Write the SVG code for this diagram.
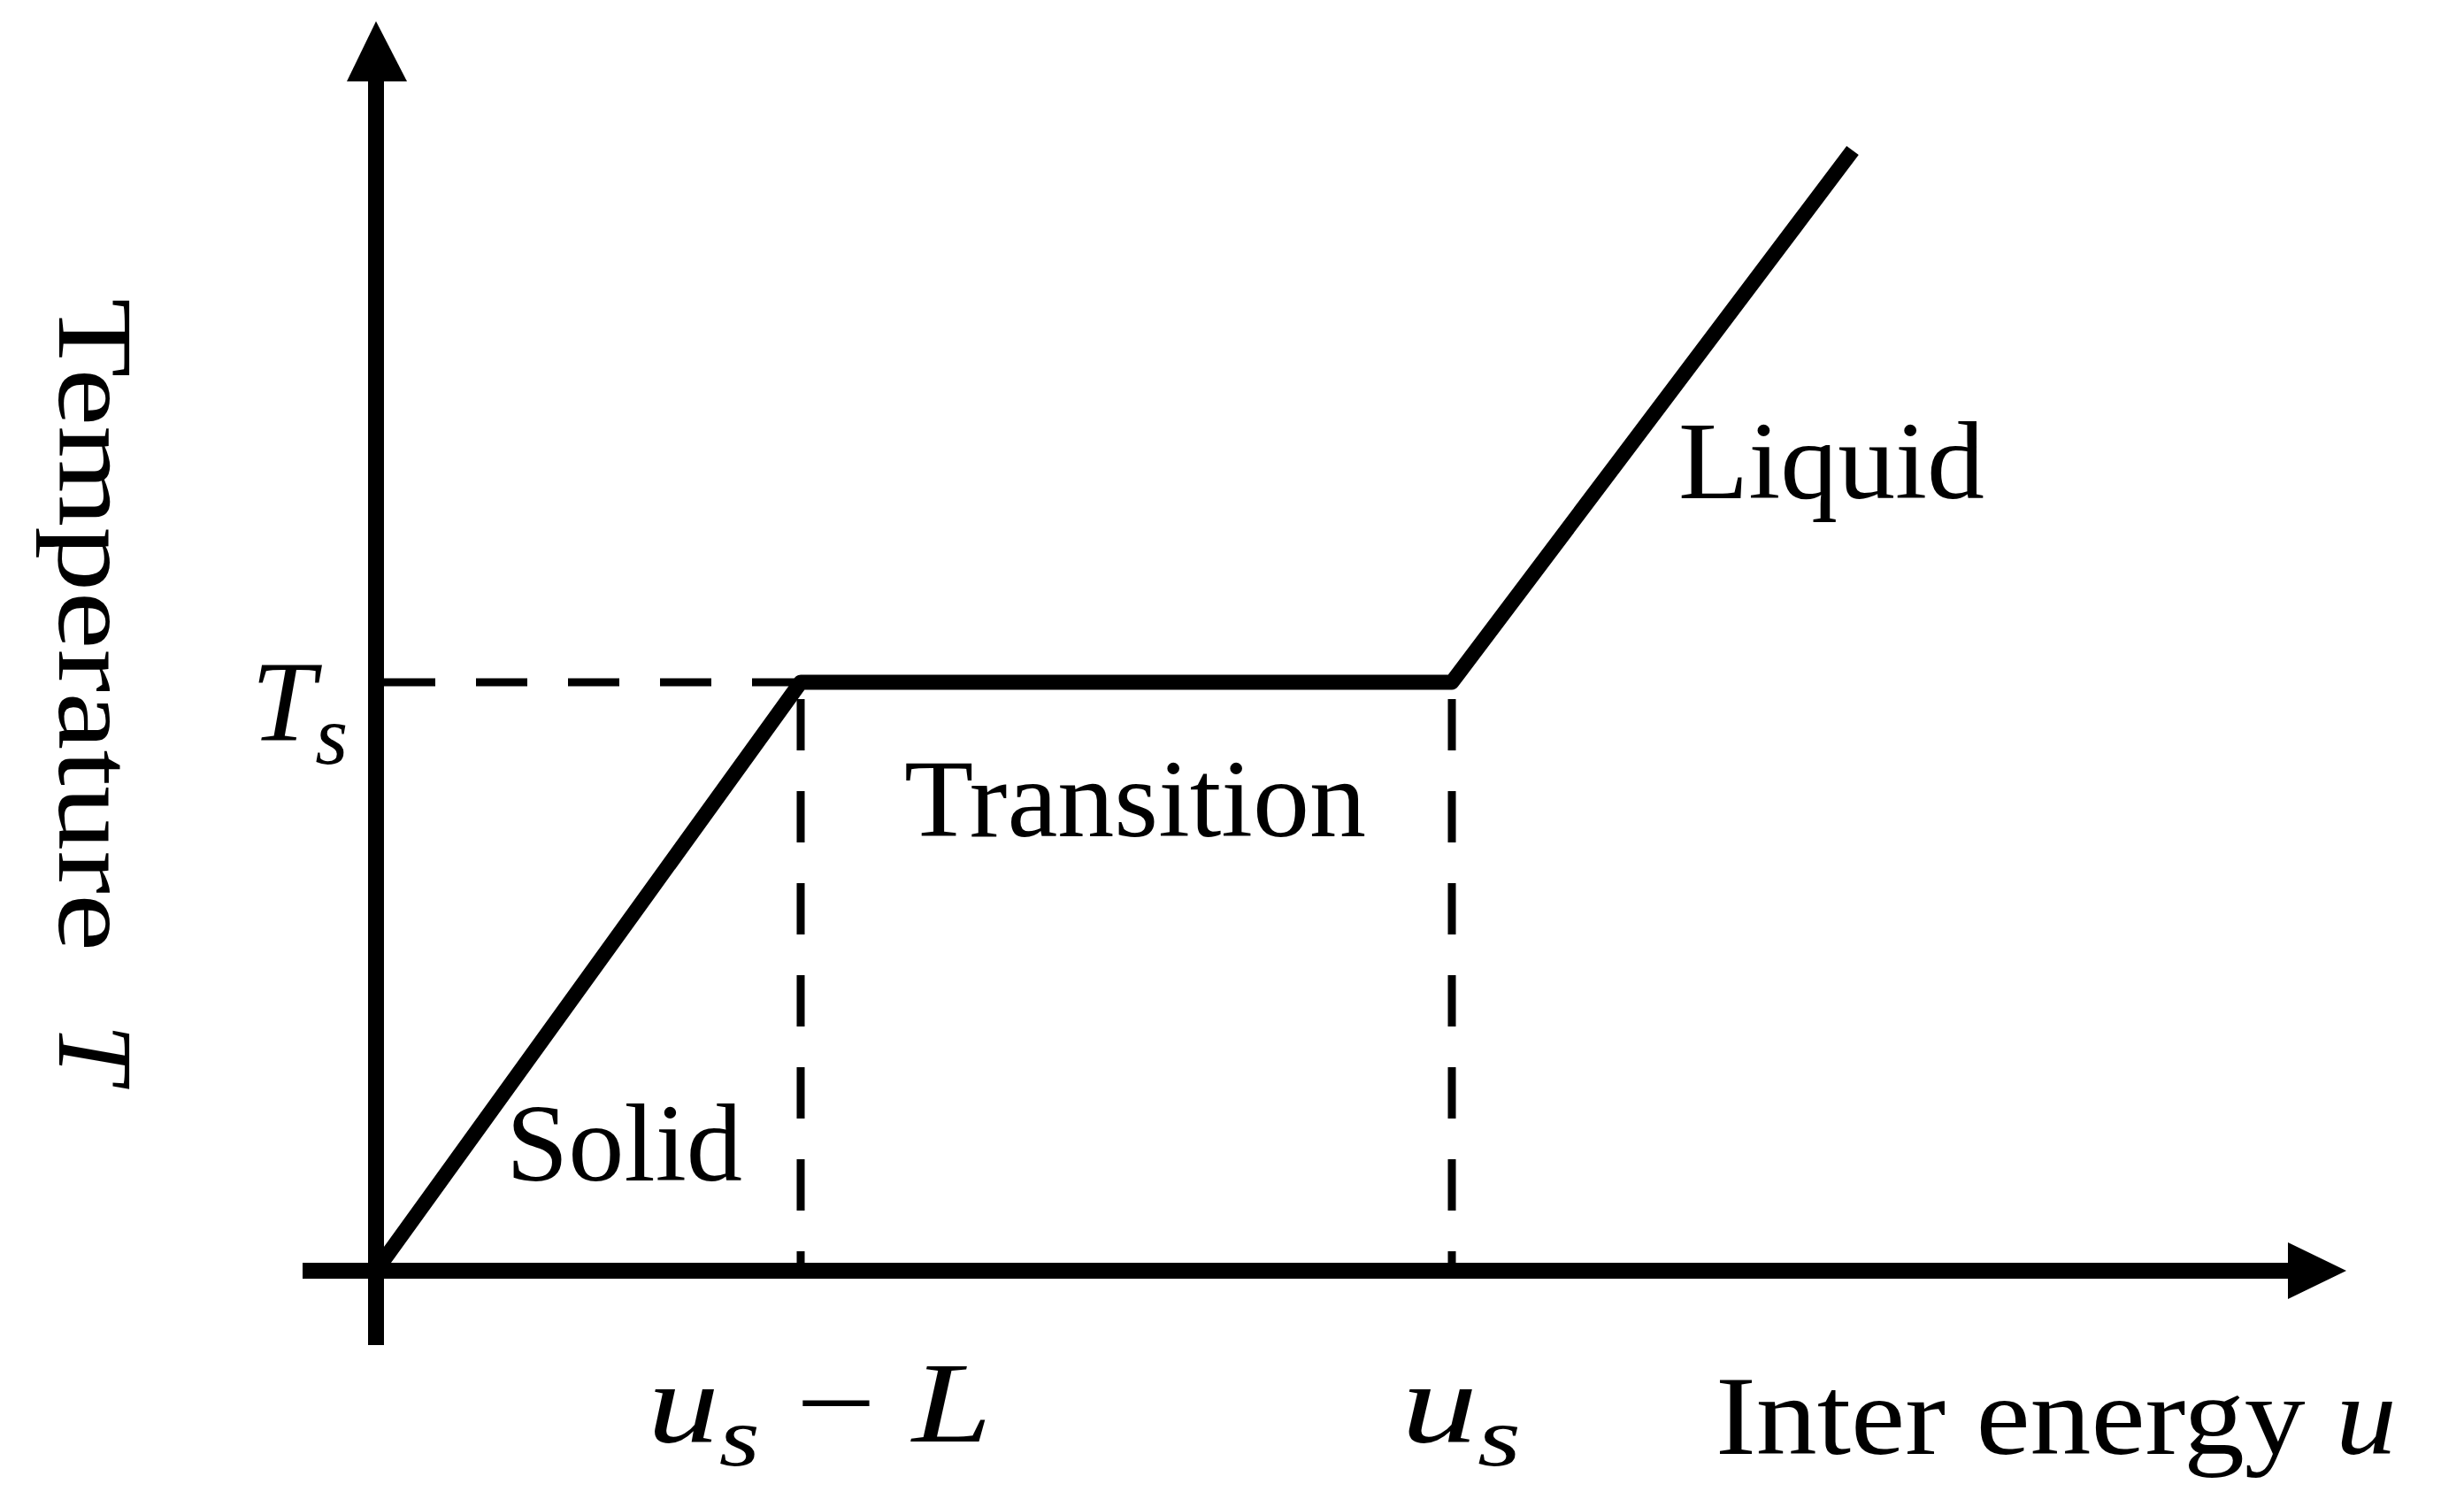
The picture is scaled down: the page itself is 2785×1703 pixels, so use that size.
<svg xmlns="http://www.w3.org/2000/svg" width="2785" height="1703" viewBox="0 0 2785 1703">
<style>
.ax{stroke:#000;stroke-width:18;fill:none}
.ln{stroke:#000;stroke-width:17;fill:none}
.ds{stroke:#000;stroke-width:9;fill:none;stroke-dasharray:58 46}
text{font-family:"Liberation Serif","Times New Roman",serif;fill:#000}
.it{font-style:italic}
</style>
<rect width="2785" height="1703" fill="#fff"/>
<g id="connectors">
<line class="ax" x1="425" y1="80" x2="425" y2="1520"/>
<polygon points="425,24 392,92 460,92"/>
<line class="ax" x1="342" y1="1436" x2="2590" y2="1436"/>
<polygon points="2652,1436 2586,1404 2586,1468"/>
<polyline class="ln" points="425,1436 905,771 1641,771 2094,170" stroke-linejoin="round"/>
<line class="ds" x1="434" y1="771" x2="905" y2="771"/>
<line class="ds" x1="905" y1="790" x2="905" y2="1436"/>
<line class="ds" x1="1641" y1="790" x2="1641" y2="1436"/>
</g>
<g id="labels">
<text x="1022" y="945" font-size="124" textLength="522" lengthAdjust="spacingAndGlyphs">Transition</text>
<text x="572" y="1334" font-size="124" textLength="267" lengthAdjust="spacingAndGlyphs">Solid</text>
<text x="1897" y="563" font-size="124" textLength="346" lengthAdjust="spacingAndGlyphs">Liquid</text>
<text x="284" y="836" font-size="130" class="it">T<tspan font-size="95" dy="27">s</tspan></text>
<text x="732" y="1629" font-size="130" class="it" textLength="389" lengthAdjust="spacingAndGlyphs">u<tspan font-size="95" dy="27">s</tspan><tspan font-style="normal" dy="-27"> − </tspan>L</text>
<text x="1584" y="1629" font-size="130" class="it" textLength="135" lengthAdjust="spacingAndGlyphs">u<tspan font-size="95" dy="27">s</tspan></text>
<text x="1939" y="1643" font-size="128" textLength="770" lengthAdjust="spacingAndGlyphs">Inter energy <tspan class="it">u</tspan></text>
<text transform="translate(67,337) rotate(90)" font-size="120" textLength="738" lengthAdjust="spacingAndGlyphs">Temperature</text>
<text transform="translate(67,1157) rotate(90)" font-size="120" class="it">T</text>
</g>
</svg>
